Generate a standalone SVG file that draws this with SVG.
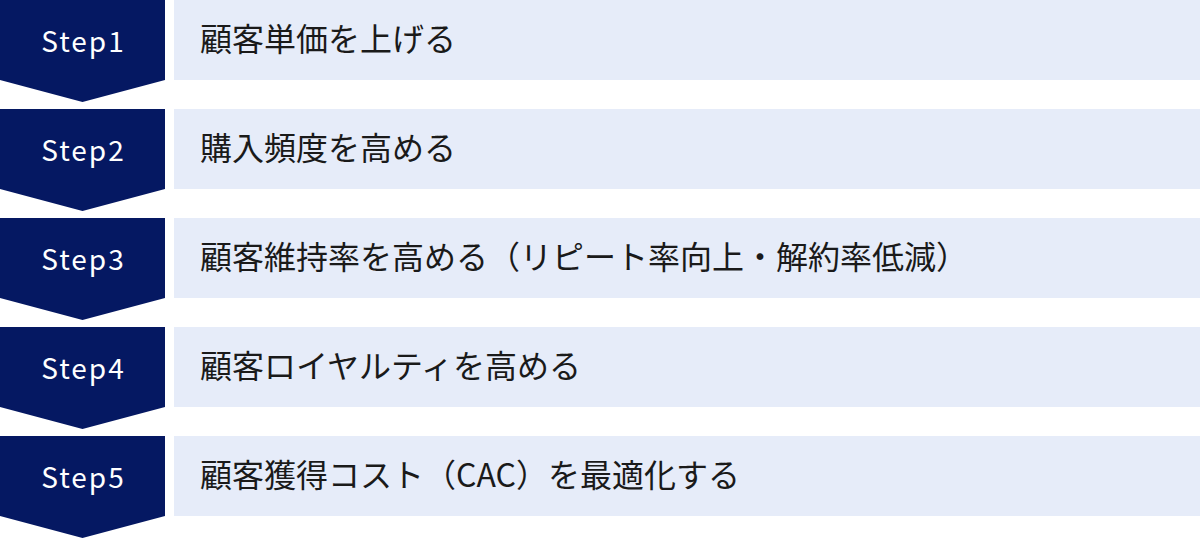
<svg xmlns="http://www.w3.org/2000/svg" width="1200" height="538" viewBox="0 0 1200 538">
<style>
.chev{fill:#051862}
.bar{fill:#E6ECF9}
.lbl{font-family:"Noto Sans CJK JP","Noto Sans",sans-serif;font-size:28px;fill:#ffffff;text-anchor:middle;letter-spacing:2px}
.txt{font-family:"Noto Sans CJK JP","Noto Sans",sans-serif;font-size:32px;fill:#1a1a1a}
</style>
<rect width="1200" height="538" fill="#ffffff"/>
<g id="step1" transform="translate(0,0)">
<polygon class="chev" points="0,0 165,0 165,80 82.5,102 0,80"/>
<rect class="bar" x="174" y="0" width="1026" height="80"/>
<text class="lbl" x="83.5" y="52">Step1</text>
<text class="txt" x="200" y="51">顧客単価を上げる</text>
</g>
<g id="step2" transform="translate(0,109)">
<polygon class="chev" points="0,0 165,0 165,80 82.5,102 0,80"/>
<rect class="bar" x="174" y="0" width="1026" height="80"/>
<text class="lbl" x="83.5" y="52">Step2</text>
<text class="txt" x="200" y="51">購入頻度を高める</text>
</g>
<g id="step3" transform="translate(0,218)">
<polygon class="chev" points="0,0 165,0 165,80 82.5,102 0,80"/>
<rect class="bar" x="174" y="0" width="1026" height="80"/>
<text class="lbl" x="83.5" y="52">Step3</text>
<text class="txt" x="200" y="51">顧客維持率を高める（リピート率向上・解約率低減）</text>
</g>
<g id="step4" transform="translate(0,327)">
<polygon class="chev" points="0,0 165,0 165,80 82.5,102 0,80"/>
<rect class="bar" x="174" y="0" width="1026" height="80"/>
<text class="lbl" x="83.5" y="52">Step4</text>
<text class="txt" x="200" y="51">顧客ロイヤルティを高める</text>
</g>
<g id="step5" transform="translate(0,436)">
<polygon class="chev" points="0,0 165,0 165,80 82.5,102 0,80"/>
<rect class="bar" x="174" y="0" width="1026" height="80"/>
<text class="lbl" x="83.5" y="52">Step5</text>
<text class="txt" x="200" y="51">顧客獲得コスト（CAC）を最適化する</text>
</g>
<g id="connectors"></g>
</svg>
